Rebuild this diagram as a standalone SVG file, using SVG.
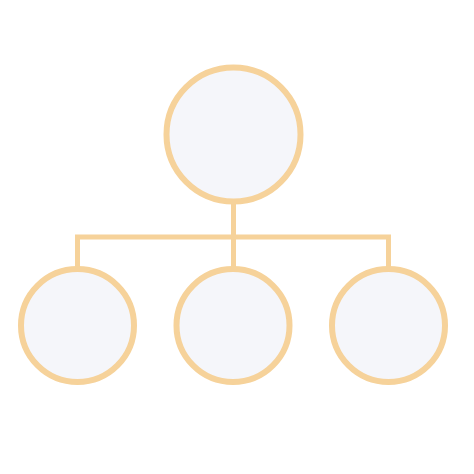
<svg xmlns="http://www.w3.org/2000/svg" width="474" height="474" viewBox="0 0 474 474">
<style>
.n{fill:#F5F6FA;stroke:#F6D29A;stroke-width:6}
.c{fill:none;stroke:#F6D29A;stroke-width:5}
</style>
<rect width="474" height="474" fill="#FFFFFF"/>
<g id="connectors">
<path class="c" d="M233.5 200V237M77.5 268V237H388.5V268M233.5 237V268"/>
</g>
<g id="root"><circle class="n" cx="233.5" cy="134.5" r="67"/></g>
<g id="child1"><circle class="n" cx="77.5" cy="325.5" r="56.5"/></g>
<g id="child2"><circle class="n" cx="233" cy="325.5" r="56.5"/></g>
<g id="child3"><circle class="n" cx="388.5" cy="325.5" r="56.5"/></g>
</svg>
